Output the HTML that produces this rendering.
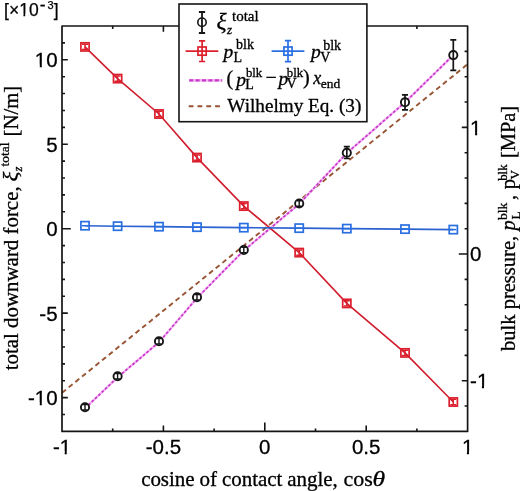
<!DOCTYPE html><html><head><meta charset="utf-8"><title>plot</title><style>html,body{margin:0;padding:0;background:#fff;}svg{display:block;}.s{font-family:"Liberation Sans",Arial,sans-serif;}.r{font-family:"Liberation Serif","Times New Roman",serif;stroke:#000;stroke-width:0.3px;}.i{font-style:italic;}</style></head><body>
<svg width="520" height="491" viewBox="0 0 520 491">
<rect width="520" height="491" fill="#fff"/>
<path d="M112.70 431.40L112.70 428.40M112.70 26.00L112.70 29.00M163.40 431.40L163.40 425.60M163.40 26.00L163.40 31.80M214.10 431.40L214.10 428.40M214.10 26.00L214.10 29.00M264.80 431.40L264.80 422.60M264.80 26.00L264.80 34.80M315.50 431.40L315.50 428.40M315.50 26.00L315.50 29.00M366.20 431.40L366.20 425.60M366.20 26.00L366.20 31.80M416.90 431.40L416.90 428.40M416.90 26.00L416.90 29.00M62.00 414.51L65.00 414.51M62.00 397.62L67.80 397.62M62.00 380.72L65.00 380.72M62.00 363.83L65.00 363.83M62.00 346.94L65.00 346.94M62.00 330.05L65.00 330.05M62.00 313.16L67.80 313.16M62.00 296.27L65.00 296.27M62.00 279.38L65.00 279.38M62.00 262.48L65.00 262.48M62.00 245.59L65.00 245.59M62.00 228.70L70.80 228.70M62.00 211.81L65.00 211.81M62.00 194.92L65.00 194.92M62.00 178.02L65.00 178.02M62.00 161.13L65.00 161.13M62.00 144.24L67.80 144.24M62.00 127.35L65.00 127.35M62.00 110.46L65.00 110.46M62.00 93.57L65.00 93.57M62.00 76.68L65.00 76.68M62.00 59.78L67.80 59.78M62.00 42.89L65.00 42.89M467.60 406.06L464.60 406.06M467.60 380.73L461.80 380.73M467.60 355.39L464.60 355.39M467.60 330.05L464.60 330.05M467.60 304.71L464.60 304.71M467.60 279.38L464.60 279.38M467.60 254.04L458.80 254.04M467.60 228.70L464.60 228.70M467.60 203.36L464.60 203.36M467.60 178.02L464.60 178.02M467.60 152.69L464.60 152.69M467.60 127.35L461.80 127.35M467.60 102.01L464.60 102.01M467.60 76.68L464.60 76.68M467.60 51.34L464.60 51.34" stroke="#151515" stroke-width="1.6" fill="none"/>
<line x1="62.0" y1="392.8" x2="467.6" y2="64.2" stroke="#985432" stroke-width="1.9" stroke-dasharray="5,3.6"/>
<polyline points="85.00,408.30 117.60,377.30 159.00,342.20 197.00,298.00 243.80,250.50 299.20,203.90 346.80,153.10 405.00,102.40 453.30,55.10" fill="none" stroke="#f4b4f4" stroke-width="2.3"/>
<polyline points="85.00,408.30 117.60,377.30 159.00,342.20 197.00,298.00 243.80,250.50 299.20,203.90 346.80,153.10 405.00,102.40 453.30,55.10" fill="none" stroke="#c838c8" stroke-width="1.7" stroke-dasharray="2.7,1.9"/>
<polyline points="85.00,46.90 117.60,78.60 159.00,114.00 197.00,157.60 243.80,206.10 299.20,252.60 346.80,303.40 405.00,352.90 453.30,402.00" fill="none" stroke="#d01d2e" stroke-width="1.6"/>
<polyline points="85.00,225.70 117.60,226.19 159.00,226.67 197.00,227.16 243.80,227.65 299.20,228.14 346.80,228.62 405.00,229.11 453.30,229.60" fill="none" stroke="#2a62d2" stroke-width="1.6"/>
<rect x="80.90" y="221.60" width="8.2" height="8.2" fill="none" stroke="#2a6fe2" stroke-width="1.7"/>
<path d="M81.90 225.70H88.10" stroke="#2a6fe2" stroke-width="1.5"/>
<rect x="113.50" y="222.09" width="8.2" height="8.2" fill="none" stroke="#2a6fe2" stroke-width="1.7"/>
<path d="M114.50 226.19H120.70" stroke="#2a6fe2" stroke-width="1.5"/>
<rect x="154.90" y="222.57" width="8.2" height="8.2" fill="none" stroke="#2a6fe2" stroke-width="1.7"/>
<path d="M155.90 226.67H162.10" stroke="#2a6fe2" stroke-width="1.5"/>
<rect x="192.90" y="223.06" width="8.2" height="8.2" fill="none" stroke="#2a6fe2" stroke-width="1.7"/>
<path d="M193.90 227.16H200.10" stroke="#2a6fe2" stroke-width="1.5"/>
<rect x="239.70" y="223.55" width="8.2" height="8.2" fill="none" stroke="#2a6fe2" stroke-width="1.7"/>
<path d="M240.70 227.65H246.90" stroke="#2a6fe2" stroke-width="1.5"/>
<rect x="295.10" y="224.04" width="8.2" height="8.2" fill="none" stroke="#2a6fe2" stroke-width="1.7"/>
<path d="M296.10 228.14H302.30" stroke="#2a6fe2" stroke-width="1.5"/>
<rect x="342.70" y="224.53" width="8.2" height="8.2" fill="none" stroke="#2a6fe2" stroke-width="1.7"/>
<path d="M343.70 228.62H349.90" stroke="#2a6fe2" stroke-width="1.5"/>
<rect x="400.90" y="225.01" width="8.2" height="8.2" fill="none" stroke="#2a6fe2" stroke-width="1.7"/>
<path d="M401.90 229.11H408.10" stroke="#2a6fe2" stroke-width="1.5"/>
<rect x="449.20" y="225.50" width="8.2" height="8.2" fill="none" stroke="#2a6fe2" stroke-width="1.7"/>
<path d="M450.20 229.60H456.40" stroke="#2a6fe2" stroke-width="1.5"/>
<rect x="80.90" y="42.80" width="8.2" height="8.2" fill="none" stroke="#dc1f2c" stroke-width="1.7"/>
<path d="M85.00 44.20V49.60M82.00 44.20H88.00M82.00 49.60H88.00" stroke="#dc1f2c" stroke-width="1.5" fill="none"/>
<rect x="113.50" y="74.50" width="8.2" height="8.2" fill="none" stroke="#dc1f2c" stroke-width="1.7"/>
<path d="M117.60 75.90V81.30M114.60 75.90H120.60M114.60 81.30H120.60" stroke="#dc1f2c" stroke-width="1.5" fill="none"/>
<rect x="154.90" y="109.90" width="8.2" height="8.2" fill="none" stroke="#dc1f2c" stroke-width="1.7"/>
<path d="M159.00 111.30V116.70M156.00 111.30H162.00M156.00 116.70H162.00" stroke="#dc1f2c" stroke-width="1.5" fill="none"/>
<rect x="192.90" y="153.50" width="8.2" height="8.2" fill="none" stroke="#dc1f2c" stroke-width="1.7"/>
<path d="M197.00 154.90V160.30M194.00 154.90H200.00M194.00 160.30H200.00" stroke="#dc1f2c" stroke-width="1.5" fill="none"/>
<rect x="239.70" y="202.00" width="8.2" height="8.2" fill="none" stroke="#dc1f2c" stroke-width="1.7"/>
<path d="M243.80 203.40V208.80M240.80 203.40H246.80M240.80 208.80H246.80" stroke="#dc1f2c" stroke-width="1.5" fill="none"/>
<rect x="295.10" y="248.50" width="8.2" height="8.2" fill="none" stroke="#dc1f2c" stroke-width="1.7"/>
<path d="M299.20 249.90V255.30M296.20 249.90H302.20M296.20 255.30H302.20" stroke="#dc1f2c" stroke-width="1.5" fill="none"/>
<rect x="342.70" y="299.30" width="8.2" height="8.2" fill="none" stroke="#dc1f2c" stroke-width="1.7"/>
<path d="M346.80 300.70V306.10M343.80 300.70H349.80M343.80 306.10H349.80" stroke="#dc1f2c" stroke-width="1.5" fill="none"/>
<rect x="400.90" y="348.80" width="8.2" height="8.2" fill="none" stroke="#dc1f2c" stroke-width="1.7"/>
<path d="M405.00 350.20V355.60M402.00 350.20H408.00M402.00 355.60H408.00" stroke="#dc1f2c" stroke-width="1.5" fill="none"/>
<rect x="449.20" y="397.90" width="8.2" height="8.2" fill="none" stroke="#dc1f2c" stroke-width="1.7"/>
<path d="M453.30 399.30V404.70M450.30 399.30H456.30M450.30 404.70H456.30" stroke="#dc1f2c" stroke-width="1.5" fill="none"/>
<circle cx="85" cy="407.3" r="4.1" fill="#fff" stroke="#151515" stroke-width="1.9"/>
<path d="M85.00 404.60V410.00M82.50 404.60H87.50M82.50 410.00H87.50" stroke="#151515" stroke-width="1.4" fill="none"/>
<circle cx="117.6" cy="376.3" r="4.1" fill="#fff" stroke="#151515" stroke-width="1.9"/>
<path d="M117.60 373.60V379.00M115.10 373.60H120.10M115.10 379.00H120.10" stroke="#151515" stroke-width="1.4" fill="none"/>
<circle cx="159" cy="341.3" r="4.1" fill="#fff" stroke="#151515" stroke-width="1.9"/>
<path d="M159.00 338.60V344.00M156.50 338.60H161.50M156.50 344.00H161.50" stroke="#151515" stroke-width="1.4" fill="none"/>
<circle cx="197" cy="297.3" r="4.1" fill="#fff" stroke="#151515" stroke-width="1.9"/>
<path d="M197.00 294.60V300.00M194.50 294.60H199.50M194.50 300.00H199.50" stroke="#151515" stroke-width="1.4" fill="none"/>
<circle cx="243.8" cy="250" r="4.1" fill="#fff" stroke="#151515" stroke-width="1.9"/>
<path d="M243.80 247.30V252.70M241.30 247.30H246.30M241.30 252.70H246.30" stroke="#151515" stroke-width="1.4" fill="none"/>
<circle cx="299.2" cy="203.5" r="4.1" fill="#fff" stroke="#151515" stroke-width="1.9"/>
<path d="M299.20 200.80V206.20M296.70 200.80H301.70M296.70 206.20H301.70" stroke="#151515" stroke-width="1.4" fill="none"/>
<circle cx="346.8" cy="152.8" r="4.1" fill="#fff" stroke="#151515" stroke-width="1.9"/>
<path d="M346.80 146.70V158.50M343.80 146.70H349.80M343.80 158.50H349.80" stroke="#151515" stroke-width="1.7" fill="none"/>
<circle cx="405" cy="102.3" r="4.1" fill="#fff" stroke="#151515" stroke-width="1.9"/>
<path d="M405.00 94.80V109.80M402.00 94.80H408.00M402.00 109.80H408.00" stroke="#151515" stroke-width="1.7" fill="none"/>
<circle cx="453.3" cy="55.1" r="4.1" fill="#fff" stroke="#151515" stroke-width="1.9"/>
<path d="M453.30 39.80V70.30M450.30 39.80H456.30M450.30 70.30H456.30" stroke="#151515" stroke-width="1.7" fill="none"/>
<rect x="62.0" y="26.0" width="405.60" height="405.40" fill="none" stroke="#151515" stroke-width="1.7" stroke-linejoin="round"/>
<g class="s" font-size="20.5" fill="#000" stroke="#000" stroke-width="0.3"><text x="57.6" y="67.18" text-anchor="end">10</text><text x="57.6" y="151.64" text-anchor="end">5</text><text x="57.6" y="236.10" text-anchor="end">0</text><text x="57.6" y="320.56" text-anchor="end">-5</text><text x="57.6" y="405.02" text-anchor="end">-10</text><text x="470.1" y="134.75">1</text><text x="470.1" y="261.44">0</text><text x="470.1" y="388.12">-1</text><text x="62.00" y="453.6" text-anchor="middle">-1</text><text x="163.40" y="453.6" text-anchor="middle">-0.5</text><text x="264.80" y="453.6" text-anchor="middle">0</text><text x="366.20" y="453.6" text-anchor="middle">0.5</text><text x="467.60" y="453.6" text-anchor="middle">1</text></g>
<g class="s" fill="#000" stroke="#000" stroke-width="0.25"><text x="4.1" y="15.8" font-size="17.5">[×10</text><text x="39.7" y="10.7" font-size="17.5">-</text><text x="47.5" y="9.1" font-size="11">3</text><text x="53.8" y="15.8" font-size="17.5">]</text></g>
<text class="r" x="141.2" y="486" font-size="21" textLength="196.5" lengthAdjust="spacing">cosine of contact angle,</text>
<text class="r" x="343.4" y="486" font-size="22">cos</text>
<text class="r i" font-size="21" transform="translate(372.6 486) scale(1.22 1)">θ</text>
<g fill="#000"><text class="r" font-size="20.9" transform="translate(17.6 370.25) rotate(-90)">total downward force,</text><text class="r i" font-size="21.5" transform="translate(18.400000000000002 181.4) rotate(-90) scale(1.08 1)">ξ</text><text class="r i" font-size="12.5" transform="translate(22.0 171.6) rotate(-90)">z</text><text class="r" font-size="13.5" transform="translate(9.200000000000001 166.6) rotate(-90)">total</text><text class="r" font-size="20.7" transform="translate(17.6 136.4) rotate(-90)">[N/m]</text><text class="r" font-size="20.5" transform="translate(515.3 350.9) rotate(-90)">bulk pressure,</text><text class="r i" font-size="20.5" transform="translate(515.3 230.5) rotate(-90)">p</text><text class="r" font-size="13.5" transform="translate(519.8 219.6) rotate(-90)">L</text><text class="r" font-size="13.5" transform="translate(507.29999999999995 220.1) rotate(-90)">blk</text><text class="r" font-size="20.5" transform="translate(515.3 199.9) rotate(-90)">,</text><text class="r" font-size="20.5" transform="translate(515.3 189.25) rotate(-90)">p</text><text class="r" font-size="13" transform="translate(518.9 179.4) rotate(-90)">V</text><text class="r" font-size="12.8" transform="translate(507.29999999999995 180.8) rotate(-90)">blk</text><text class="r" font-size="20.3" transform="translate(515.3 157.9) rotate(-90)">[MPa]</text></g>
<g fill="#000"><rect x="179" y="4.0" width="187.9" height="117.7" fill="#fff" stroke="#151515" stroke-width="1.6"/><circle cx="202" cy="22.2" r="4.2" fill="none" stroke="#151515" stroke-width="1.6"/><path d="M202.00 12.00V33.00M198.90 12.00H205.10M198.90 33.00H205.10" stroke="#151515" stroke-width="1.8" fill="none"/><text class="r i" font-size="22.5" transform="translate(216.4 29.0) scale(1.05 1)">ξ</text><text class="r i" x="226.9" y="33.6" font-size="13">z</text><text class="r" x="232.0" y="20.6" font-size="15">total</text><path d="M185.6 51.1H218.3" stroke="#dc1f2c" stroke-width="1.8"/><rect x="198.00" y="47.00" width="8.2" height="8.2" fill="none" stroke="#dc1f2c" stroke-width="1.7"/><path d="M202.10 40.90V61.50M199.00 40.90H205.20M199.00 61.50H205.20" stroke="#dc1f2c" stroke-width="1.7" fill="none"/><text class="r i" x="223.6" y="57.6" font-size="19.5">p</text><text class="r" x="233.4" y="61.5" font-size="14">L</text><text class="r" x="236.1" y="49.3" font-size="14">blk</text><path d="M271.6 51.1H304.4" stroke="#2a6fe2" stroke-width="1.8"/><rect x="283.90" y="47.00" width="8.2" height="8.2" fill="none" stroke="#2a6fe2" stroke-width="1.7"/><path d="M288.00 40.70V61.70M284.90 40.70H291.10M284.90 61.70H291.10" stroke="#2a6fe2" stroke-width="1.7" fill="none"/><text class="r i" x="310.9" y="57.6" font-size="19.5">p</text><text class="r" x="320.2" y="61.5" font-size="14">V</text><text class="r" x="323.2" y="50.0" font-size="14">blk</text><path d="M189.2 80.4H222.2" stroke="#f4b4f4" stroke-width="2.6"/><path d="M189.2 80.4H222.2" stroke="#c838c8" stroke-width="2.1" stroke-dasharray="4,2.4"/><text class="r" x="226.5" y="85.3" font-size="20">(</text><text class="r i" x="236.2" y="85.5" font-size="19.5">p</text><text class="r" x="245.3" y="88.8" font-size="14">L</text><text class="r" x="245.9" y="76.9" font-size="12.8">blk</text><text class="r" x="265.6" y="83.8" font-size="20">−</text><text class="r i" x="278.4" y="85.2" font-size="19.5">p</text><text class="r" x="286.4" y="87.7" font-size="14">V</text><text class="r" x="286.8" y="76.6" font-size="12.8">blk</text><text class="r" x="302.9" y="84.3" font-size="20">)</text><text class="r i" x="313.2" y="84.4" font-size="18">x</text><text class="r" x="320.8" y="87.6" font-size="13.5">end</text><path d="M188.7 106.2H220.4" stroke="#985432" stroke-width="1.9" stroke-dasharray="4.8,4"/><text class="r" x="227.3" y="112" font-size="19.2">Wilhelmy Eq. (3)</text></g>
<!--feet--><g fill="#fff"><rect x="35.40" y="64.76" width="4.37" height="4.92"/><rect x="41.86" y="64.76" width="4.10" height="4.92"/><rect x="35.39" y="402.60" width="4.37" height="4.92"/><rect x="41.84" y="402.60" width="4.10" height="4.92"/><rect x="470.72" y="132.33" width="4.37" height="4.92"/><rect x="477.17" y="132.33" width="4.10" height="4.92"/><rect x="477.53" y="385.70" width="4.37" height="4.92"/><rect x="483.99" y="385.70" width="4.10" height="4.92"/><rect x="60.31" y="451.18" width="4.37" height="4.92"/><rect x="66.77" y="451.18" width="4.10" height="4.92"/><rect x="462.51" y="451.18" width="4.37" height="4.92"/><rect x="468.97" y="451.18" width="4.10" height="4.92"/><rect x="19.70" y="13.74" width="3.73" height="4.20"/><rect x="25.22" y="13.74" width="3.50" height="4.20"/></g></svg></body></html>
